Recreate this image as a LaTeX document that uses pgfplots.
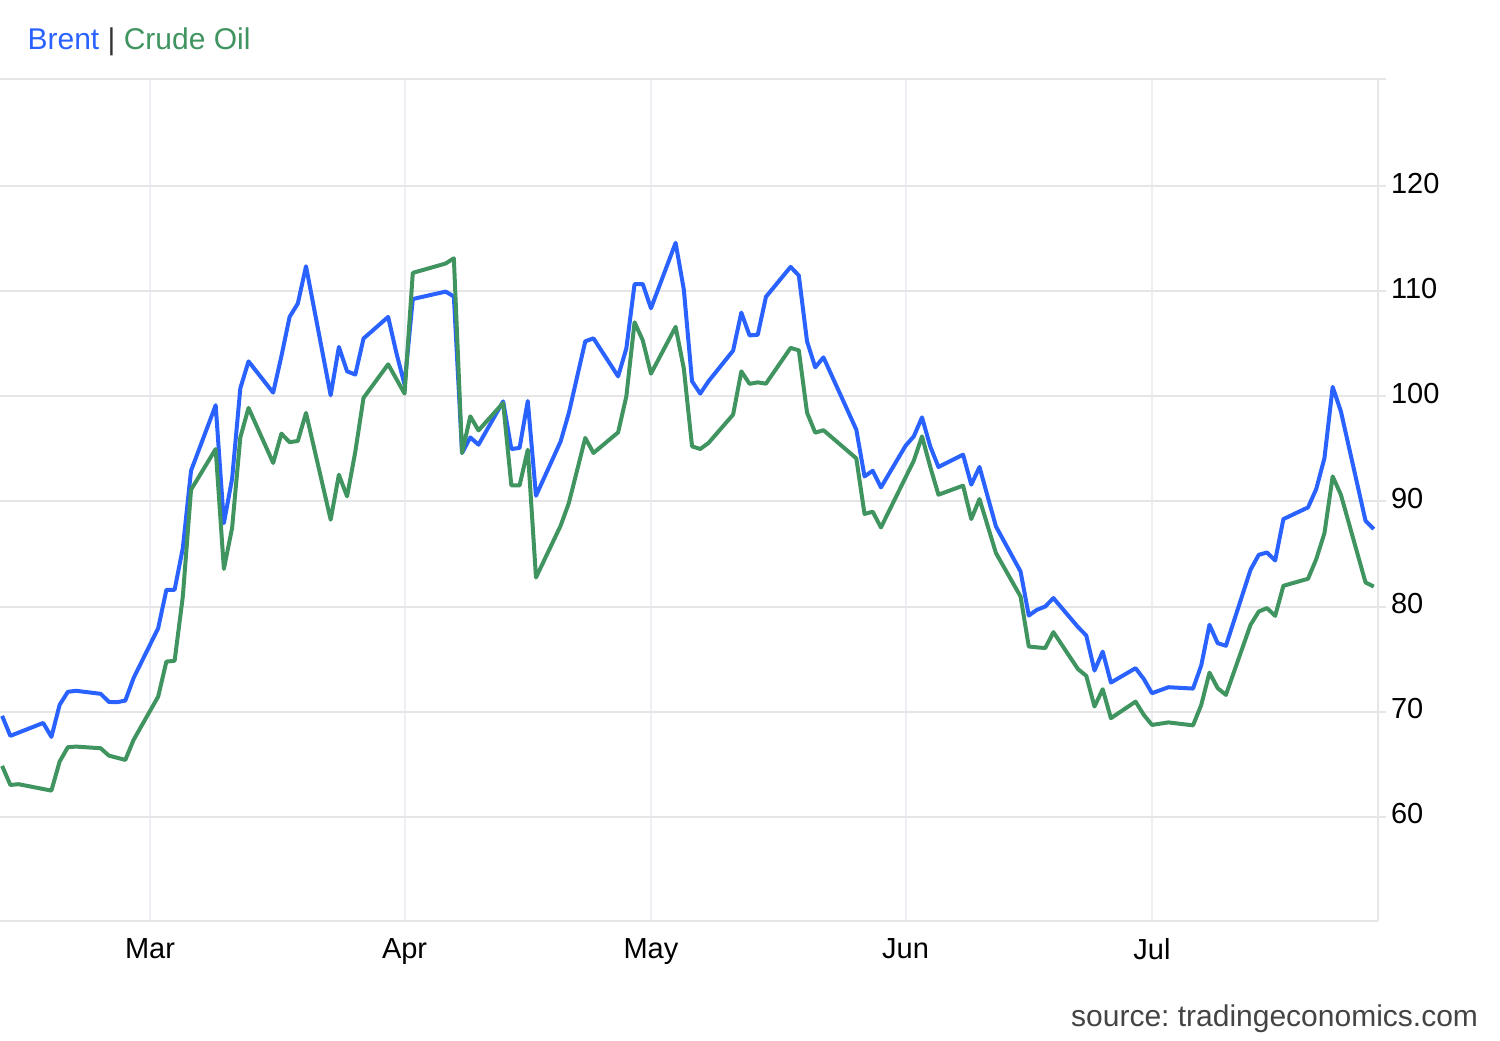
\documentclass[border=0pt]{standalone}
\usepackage{pgfplots}
\pgfplotsset{compat=1.18}
\usepackage{pgfplotstable}
\usepackage{fontspec}
\setmainfont{Liberation Sans}
\frenchspacing
\definecolor{brent}{RGB}{41,98,255}
\definecolor{crude}{RGB}{64,148,96}
\definecolor{hgrid}{RGB}{230,230,230}
\definecolor{vgrid}{RGB}{236,240,245}
\definecolor{srcgray}{RGB}{68,68,68}

% day 0 = 1 March
\pgfplotstableread{
d v
-18 69.59
-17 67.69
-13 68.92
-12 67.59
-11 70.64
-10 71.88
-9 71.98
-6 71.69
-5 70.92
-4 70.89
-3 71.05
-2 73.18
1 77.94
2 81.59
3 81.59
4 85.56
5 92.92
8 99.16
9 87.94
10 92.16
11 100.76
12 103.33
15 100.35
16 103.81
17 107.56
18 108.83
19 112.38
22 100.10
23 104.70
24 102.38
25 102.07
26 105.50
29 107.56
30 104.13
31 101.11
32 109.26
36 109.97
37 109.50
38 94.61
39 96.09
40 95.40
43 99.52
44 94.99
45 95.09
46 99.56
47 90.54
50 95.71
51 98.42
53 105.24
54 105.52
57 101.90
58 104.56
59 110.67
60 110.69
61 108.38
64 114.61
65 110.16
66 101.43
67 100.26
68 101.43
71 104.35
72 107.97
73 105.80
74 105.86
75 109.47
78 112.32
79 111.50
80 105.24
81 102.76
82 103.71
86 96.83
87 92.38
88 92.92
89 91.33
92 95.30
93 96.19
94 98.00
95 95.24
96 93.28
99 94.45
100 91.59
101 93.28
103 87.62
106 83.33
107 79.14
108 79.69
109 80.00
110 80.80
113 78.04
114 77.24
115 73.90
116 75.71
117 72.76
120 74.13
121 73.11
122 71.75
124 72.32
127 72.19
128 74.40
129 78.26
130 76.51
131 76.26
134 83.50
135 84.92
136 85.14
137 84.38
138 88.32
141 89.43
142 91.18
143 94.13
144 100.90
145 98.57
148 88.16
149 87.37
}\brenttable

\pgfplotstableread{
d v
-18 64.83
-17 63.02
-16 63.09
-12 62.48
-11 65.24
-10 66.61
-9 66.67
-6 66.51
-5 65.81
-3 65.40
-2 67.30
1 71.43
2 74.76
3 74.83
4 80.95
5 91.11
8 94.99
9 83.57
10 87.47
11 96.09
12 98.90
15 93.66
16 96.45
17 95.64
18 95.75
19 98.42
22 88.26
23 92.54
24 90.48
25 94.73
26 99.85
29 103.05
31 100.26
32 111.75
36 112.64
37 113.14
38 94.61
39 98.10
40 96.76
43 99.37
44 91.52
45 91.52
46 94.92
47 82.76
50 87.69
51 89.85
53 96.04
54 94.61
57 96.57
58 100.00
59 107.05
60 105.33
61 102.16
64 106.61
65 102.64
66 95.24
67 94.99
68 95.56
71 98.26
72 102.38
73 101.19
74 101.33
75 101.21
78 104.61
79 104.38
80 98.45
81 96.54
82 96.78
86 94.10
87 88.81
88 89.02
89 87.52
93 93.88
94 96.19
95 93.30
96 90.64
99 91.50
100 88.32
101 90.23
103 85.09
106 80.95
107 76.19
109 76.04
110 77.56
113 74.04
114 73.40
115 70.48
116 72.13
117 69.37
120 70.95
121 69.69
122 68.73
124 68.97
127 68.69
128 70.64
129 73.71
130 72.23
131 71.59
134 78.26
135 79.52
136 79.85
137 79.11
138 81.97
141 82.64
142 84.51
143 86.99
144 92.38
145 90.64
148 82.29
149 81.90
}\crudetable

\begin{document}
\begin{tikzpicture}[x=1pt,y=1pt]
\path[use as bounding box] (0,0) rectangle (750,520);
\begin{axis}[
  at={(0pt,59.65pt)}, anchor=south west,
  scale only axis, width=689pt, height=420.85pt,
  xmin=-18.26, xmax=149.52, ymin=50.1, ymax=130.2,
  axis x line*=bottom, axis y line*=right,
  axis line style={-, draw=hgrid, line width=1pt},
  xtick={0,31,61,92,122}, xticklabels={Mar,Apr,May,Jun,Jul},
  ytick={60,70,...,120}, extra y ticks={130.2}, extra y tick labels={},
  extra y tick style={grid=major},
  xmajorgrids, ymajorgrids,
  x grid style={draw=vgrid, line width=1pt},
  y grid style={draw=hgrid, line width=1pt},
  tick align=outside,
  xtick style={draw=none},
  ytick style={draw=hgrid, line width=1pt},
  major tick length=4pt,
  /pgf/number format/assume math mode=true,
  ticklabel style={font=\fontsize{14.5}{17}\selectfont, text=black},
  xticklabel style={yshift=-1.5pt},
  yticklabel style={xshift=-1pt, yshift=1.5pt},
  clip=true,
]
\addplot[brent, line width=2pt, line join=round] table[x=d, y=v] {\brenttable};
\addplot[crude, line width=2pt, line join=round] table[x=d, y=v] {\crudetable};
\end{axis}
\node[anchor=base west, inner sep=0pt, font=\fontsize{15}{18}\selectfont] at (13.6pt,495pt)
  {\textcolor{brent}{Brent} \textcolor{black!80}{|} \textcolor{crude}{Crude Oil}};
\node[anchor=base east, inner sep=0pt, font=\fontsize{15}{18}\selectfont, text=srcgray] at (739.2pt,6.65pt)
  {source: tradingeconomics.com};
\end{tikzpicture}
\end{document}
